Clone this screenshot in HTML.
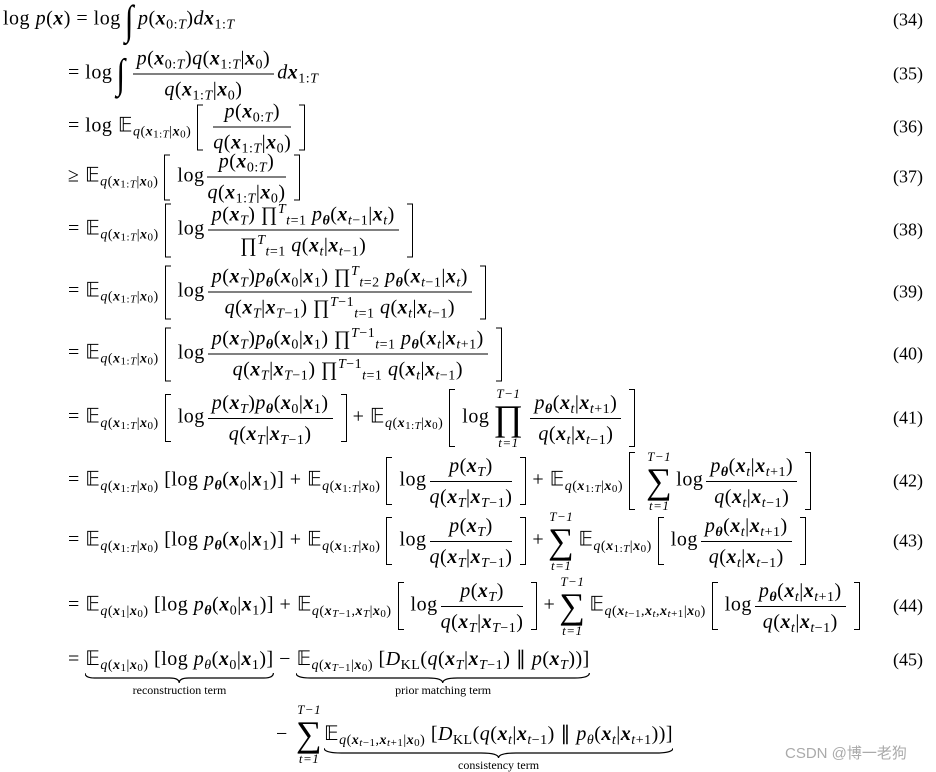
<!DOCTYPE html>
<html><head><meta charset="utf-8"><style>
body{margin:0;width:936px;height:772px;background:#fff;position:relative;overflow:hidden;font-family:"Liberation Serif",serif;font-size:20px;color:#000;letter-spacing:0.5px}
.row{position:absolute;white-space:nowrap;transform:translateY(-50%);line-height:1.2}
.num{position:absolute;left:893px;transform:translateY(-50%);white-space:nowrap;font-size:18px;letter-spacing:0}
i{font-style:italic}
b{font-style:italic;font-weight:bold}
sub{font-size:14px;vertical-align:-4px;line-height:0}
sub sub{font-size:11px;vertical-align:-2px}
sup{font-size:14px;line-height:0}
.fr{display:inline-block;text-align:center;vertical-align:middle;margin:0 3px;line-height:1.3}
.fr>span{display:block}
.fr>span:first-child{border-bottom:1px solid #000;padding:0 4px 2px}
.fr>span:last-child{padding-top:2px}
.bl,.brr{display:inline-block;width:5px;border:1.3px solid #000;vertical-align:middle}
.bl{border-right:none;margin:0 7px 0 6px}.brr{border-left:none;margin:0 6px 0 5px}
.op{display:inline-block;text-align:center;vertical-align:middle;line-height:1;margin:0 4px}
.op small{display:block;font-size:13px;font-style:italic}
.op big{display:block;font-size:36px;line-height:1}
.int{display:inline-block;font-size:32px;margin:0 4px;font-style:italic;vertical-align:middle;transform:scaleY(1.3)}
.ub{display:inline-flex;flex-direction:column;align-items:center;white-space:nowrap;line-height:1.2;vertical-align:top}
.abs{position:absolute}
.brace{width:100%;height:10px;margin-top:2px}
.lab{font-size:12px;margin-top:0;letter-spacing:0}
</style></head><body>

<div class="row" style="left:3px;top:20px">log <i>p</i>(<b>x</b>) = log<span class="int">∫</span><i>p</i>(<b>x</b><sub>0:<i>T</i></sub>)<i>d</i><b>x</b><sub>1:<i>T</i></sub></div>
<div class="num" style="top:20px">(34)</div>

<div class="row" style="left:68px;top:74px">= log<span class="int">∫</span><span class="fr"><span><i>p</i>(<b>x</b><sub>0:<i>T</i></sub>)<i>q</i>(<b>x</b><sub>1:<i>T</i></sub>|<b>x</b><sub>0</sub>)</span><span><i>q</i>(<b>x</b><sub>1:<i>T</i></sub>|<b>x</b><sub>0</sub>)</span></span><i>d</i><b>x</b><sub>1:<i>T</i></sub></div>
<div class="num" style="top:74px">(35)</div>

<div class="row" style="left:68px;top:127px">= log 𝔼<sub><i>q</i>(<b>x</b><sub>1:<i>T</i></sub>|<b>x</b><sub>0</sub>)</sub><span class="bl" style="height:44px"></span><span class="fr"><span><i>p</i>(<b>x</b><sub>0:<i>T</i></sub>)</span><span><i>q</i>(<b>x</b><sub>1:<i>T</i></sub>|<b>x</b><sub>0</sub>)</span></span><span class="brr" style="height:44px"></span></div>
<div class="num" style="top:127px">(36)</div>

<div class="row" style="left:68px;top:177px">≥ 𝔼<sub><i>q</i>(<b>x</b><sub>1:<i>T</i></sub>|<b>x</b><sub>0</sub>)</sub><span class="bl" style="height:44px"></span>log<span class="fr"><span><i>p</i>(<b>x</b><sub>0:<i>T</i></sub>)</span><span><i>q</i>(<b>x</b><sub>1:<i>T</i></sub>|<b>x</b><sub>0</sub>)</span></span><span class="brr" style="height:44px"></span></div>
<div class="num" style="top:177px">(37)</div>

<div class="row" style="left:68px;top:230px">= 𝔼<sub><i>q</i>(<b>x</b><sub>1:<i>T</i></sub>|<b>x</b><sub>0</sub>)</sub><span class="bl" style="height:52px"></span>log<span class="fr"><span><i>p</i>(<b>x</b><sub><i>T</i></sub>) ∏<sup><i>T</i></sup><sub><i>t</i>=1</sub> <i>p</i><sub><b>θ</b></sub>(<b>x</b><sub><i>t</i>−1</sub>|<b>x</b><sub><i>t</i></sub>)</span><span>∏<sup><i>T</i></sup><sub><i>t</i>=1</sub> <i>q</i>(<b>x</b><sub><i>t</i></sub>|<b>x</b><sub><i>t</i>−1</sub>)</span></span><span class="brr" style="height:52px"></span></div>
<div class="num" style="top:230px">(38)</div>

<div class="row" style="left:68px;top:292px">= 𝔼<sub><i>q</i>(<b>x</b><sub>1:<i>T</i></sub>|<b>x</b><sub>0</sub>)</sub><span class="bl" style="height:52px"></span>log<span class="fr"><span><i>p</i>(<b>x</b><sub><i>T</i></sub>)<i>p</i><sub><b>θ</b></sub>(<b>x</b><sub>0</sub>|<b>x</b><sub>1</sub>) ∏<sup><i>T</i></sup><sub><i>t</i>=2</sub> <i>p</i><sub><b>θ</b></sub>(<b>x</b><sub><i>t</i>−1</sub>|<b>x</b><sub><i>t</i></sub>)</span><span><i>q</i>(<b>x</b><sub><i>T</i></sub>|<b>x</b><sub><i>T</i>−1</sub>) ∏<sup><i>T</i>−1</sup><sub><i>t</i>=1</sub> <i>q</i>(<b>x</b><sub><i>t</i></sub>|<b>x</b><sub><i>t</i>−1</sub>)</span></span><span class="brr" style="height:52px"></span></div>
<div class="num" style="top:292px">(39)</div>

<div class="row" style="left:68px;top:354px">= 𝔼<sub><i>q</i>(<b>x</b><sub>1:<i>T</i></sub>|<b>x</b><sub>0</sub>)</sub><span class="bl" style="height:52px"></span>log<span class="fr"><span><i>p</i>(<b>x</b><sub><i>T</i></sub>)<i>p</i><sub><b>θ</b></sub>(<b>x</b><sub>0</sub>|<b>x</b><sub>1</sub>) ∏<sup><i>T</i>−1</sup><sub><i>t</i>=1</sub> <i>p</i><sub><b>θ</b></sub>(<b>x</b><sub><i>t</i></sub>|<b>x</b><sub><i>t</i>+1</sub>)</span><span><i>q</i>(<b>x</b><sub><i>T</i></sub>|<b>x</b><sub><i>T</i>−1</sub>) ∏<sup><i>T</i>−1</sup><sub><i>t</i>=1</sub> <i>q</i>(<b>x</b><sub><i>t</i></sub>|<b>x</b><sub><i>t</i>−1</sub>)</span></span><span class="brr" style="height:52px"></span></div>
<div class="num" style="top:354px">(40)</div>

<div class="row" style="left:68px;top:418px">= 𝔼<sub><i>q</i>(<b>x</b><sub>1:<i>T</i></sub>|<b>x</b><sub>0</sub>)</sub><span class="bl" style="height:46px"></span>log<span class="fr"><span><i>p</i>(<b>x</b><sub><i>T</i></sub>)<i>p</i><sub><b>θ</b></sub>(<b>x</b><sub>0</sub>|<b>x</b><sub>1</sub>)</span><span><i>q</i>(<b>x</b><sub><i>T</i></sub>|<b>x</b><sub><i>T</i>−1</sub>)</span></span><span class="brr" style="height:46px"></span>+ 𝔼<sub><i>q</i>(<b>x</b><sub>1:<i>T</i></sub>|<b>x</b><sub>0</sub>)</sub><span class="bl" style="height:56px"></span>log<span class="op"><small>T−1</small><big>∏</big><small>t=1</small></span><span class="fr"><span><i>p</i><sub><b>θ</b></sub>(<b>x</b><sub><i>t</i></sub>|<b>x</b><sub><i>t</i>+1</sub>)</span><span><i>q</i>(<b>x</b><sub><i>t</i></sub>|<b>x</b><sub><i>t</i>−1</sub>)</span></span><span class="brr" style="height:56px"></span></div>
<div class="num" style="top:418px">(41)</div>

<div class="row" style="left:68px;top:481px">= 𝔼<sub><i>q</i>(<b>x</b><sub>1:<i>T</i></sub>|<b>x</b><sub>0</sub>)</sub> [log <i>p</i><sub><b>θ</b></sub>(<b>x</b><sub>0</sub>|<b>x</b><sub>1</sub>)] + 𝔼<sub><i>q</i>(<b>x</b><sub>1:<i>T</i></sub>|<b>x</b><sub>0</sub>)</sub><span class="bl" style="height:46px"></span>log<span class="fr"><span><i>p</i>(<b>x</b><sub><i>T</i></sub>)</span><span><i>q</i>(<b>x</b><sub><i>T</i></sub>|<b>x</b><sub><i>T</i>−1</sub>)</span></span><span class="brr" style="height:46px"></span>+ 𝔼<sub><i>q</i>(<b>x</b><sub>1:<i>T</i></sub>|<b>x</b><sub>0</sub>)</sub><span class="bl" style="height:56px"></span><span class="op"><small>T−1</small><big>∑</big><small>t=1</small></span>log<span class="fr"><span><i>p</i><sub><b>θ</b></sub>(<b>x</b><sub><i>t</i></sub>|<b>x</b><sub><i>t</i>+1</sub>)</span><span><i>q</i>(<b>x</b><sub><i>t</i></sub>|<b>x</b><sub><i>t</i>−1</sub>)</span></span><span class="brr" style="height:56px"></span></div>
<div class="num" style="top:481px">(42)</div>

<div class="row" style="left:68px;top:541px">= 𝔼<sub><i>q</i>(<b>x</b><sub>1:<i>T</i></sub>|<b>x</b><sub>0</sub>)</sub> [log <i>p</i><sub><b>θ</b></sub>(<b>x</b><sub>0</sub>|<b>x</b><sub>1</sub>)] + 𝔼<sub><i>q</i>(<b>x</b><sub>1:<i>T</i></sub>|<b>x</b><sub>0</sub>)</sub><span class="bl" style="height:46px"></span>log<span class="fr"><span><i>p</i>(<b>x</b><sub><i>T</i></sub>)</span><span><i>q</i>(<b>x</b><sub><i>T</i></sub>|<b>x</b><sub><i>T</i>−1</sub>)</span></span><span class="brr" style="height:46px"></span>+<span class="op"><small>T−1</small><big>∑</big><small>t=1</small></span>𝔼<sub><i>q</i>(<b>x</b><sub>1:<i>T</i></sub>|<b>x</b><sub>0</sub>)</sub><span class="bl" style="height:46px"></span>log<span class="fr"><span><i>p</i><sub><b>θ</b></sub>(<b>x</b><sub><i>t</i></sub>|<b>x</b><sub><i>t</i>+1</sub>)</span><span><i>q</i>(<b>x</b><sub><i>t</i></sub>|<b>x</b><sub><i>t</i>−1</sub>)</span></span><span class="brr" style="height:46px"></span></div>
<div class="num" style="top:541px">(43)</div>

<div class="row" style="left:68px;top:606px">= 𝔼<sub><i>q</i>(<b>x</b><sub>1</sub>|<b>x</b><sub>0</sub>)</sub> [log <i>p</i><sub><b>θ</b></sub>(<b>x</b><sub>0</sub>|<b>x</b><sub>1</sub>)] + 𝔼<sub><i>q</i>(<b>x</b><sub><i>T</i>−1</sub>,<b>x</b><sub><i>T</i></sub>|<b>x</b><sub>0</sub>)</sub><span class="bl" style="height:46px"></span>log<span class="fr"><span><i>p</i>(<b>x</b><sub><i>T</i></sub>)</span><span><i>q</i>(<b>x</b><sub><i>T</i></sub>|<b>x</b><sub><i>T</i>−1</sub>)</span></span><span class="brr" style="height:46px"></span>+<span class="op"><small>T−1</small><big>∑</big><small>t=1</small></span>𝔼<sub><i>q</i>(<b>x</b><sub><i>t</i>−1</sub>,<b>x</b><sub><i>t</i></sub>,<b>x</b><sub><i>t</i>+1</sub>|<b>x</b><sub>0</sub>)</sub><span class="bl" style="height:46px"></span>log<span class="fr"><span><i>p</i><sub><b>θ</b></sub>(<b>x</b><sub><i>t</i></sub>|<b>x</b><sub><i>t</i>+1</sub>)</span><span><i>q</i>(<b>x</b><sub><i>t</i></sub>|<b>x</b><sub><i>t</i>−1</sub>)</span></span><span class="brr" style="height:46px"></span></div>
<div class="num" style="top:606px">(44)</div>

<div class="abs" style="left:68px;top:647px;white-space:nowrap;line-height:1.2">= <span class="ub"><span>𝔼<sub><i>q</i>(<b>x</b><sub>1</sub>|<b>x</b><sub>0</sub>)</sub> [log <i>p<sub>θ</sub></i>(<b>x</b><sub>0</sub>|<b>x</b><sub>1</sub>)]</span><svg class="brace" viewBox="0 0 100 10" preserveAspectRatio="none"><path d="M0 0 Q0 5 5 5 L45 5 Q50 5 50 10 Q50 5 55 5 L95 5 Q100 5 100 0" fill="none" stroke="#000" stroke-width="1.2" vector-effect="non-scaling-stroke"/></svg><span class="lab">reconstruction term</span></span> − <span class="ub"><span>𝔼<sub><i>q</i>(<b>x</b><sub><i>T</i>−1</sub>|<b>x</b><sub>0</sub>)</sub> [<i>D</i><sub>KL</sub>(<i>q</i>(<b>x</b><sub><i>T</i></sub>|<b>x</b><sub><i>T</i>−1</sub>) ∥ <i>p</i>(<b>x</b><sub><i>T</i></sub>))]</span><svg class="brace" viewBox="0 0 100 10" preserveAspectRatio="none"><path d="M0 0 Q0 5 5 5 L45 5 Q50 5 50 10 Q50 5 55 5 L95 5 Q100 5 100 0" fill="none" stroke="#000" stroke-width="1.2" vector-effect="non-scaling-stroke"/></svg><span class="lab">prior matching term</span></span></div>
<div class="num" style="top:660px">(45)</div>

<div class="abs" style="left:276px;top:722px;line-height:1.2">−</div>
<div class="op abs" style="left:296px;top:703px;margin:0"><small>T−1</small><big>∑</big><small>t=1</small></div>
<div class="ub abs" style="left:324px;top:722px"><span>𝔼<sub><i>q</i>(<b>x</b><sub><i>t</i>−1</sub>,<b>x</b><sub><i>t</i>+1</sub>|<b>x</b><sub>0</sub>)</sub> [<i>D</i><sub>KL</sub>(<i>q</i>(<b>x</b><sub><i>t</i></sub>|<b>x</b><sub><i>t</i>−1</sub>) ∥ <i>p<sub>θ</sub></i>(<b>x</b><sub><i>t</i></sub>|<b>x</b><sub><i>t</i>+1</sub>))]</span><svg class="brace" viewBox="0 0 100 10" preserveAspectRatio="none"><path d="M0 0 Q0 5 5 5 L45 5 Q50 5 50 10 Q50 5 55 5 L95 5 Q100 5 100 0" fill="none" stroke="#000" stroke-width="1.2" vector-effect="non-scaling-stroke"/></svg><span class="lab">consistency term</span></div>

<div style="position:absolute;left:785px;top:742px;font-family:'Liberation Sans','Noto Sans CJK SC',sans-serif;font-size:15px;color:#aaa;letter-spacing:0">CSDN @博一老狗</div>
</body></html>
